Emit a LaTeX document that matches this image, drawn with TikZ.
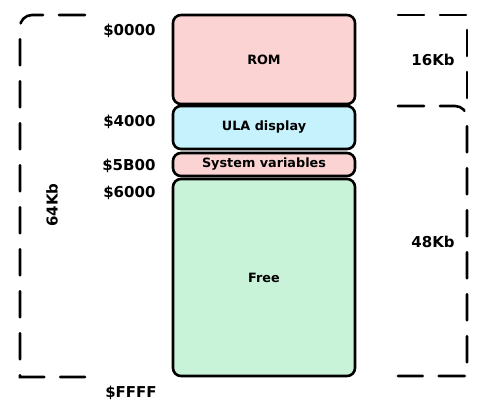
\documentclass[tikz,border=0pt]{standalone}
\usepackage{fontspec}
\setmainfont{DejaVu Sans}
\usepackage{tikz}

\definecolor{rompink}{HTML}{FBD3D3}
\definecolor{ulacyan}{HTML}{C5F2FD}
\definecolor{freegreen}{HTML}{C9F3D8}

\begin{document}
\begin{tikzpicture}[x=1pt, y=-1pt,
    every node/.style={font=\bfseries},
    membox/.style={draw, line width=2.6pt, rounded corners=8pt, minimum width=182pt, inner sep=0pt,
      font=\bfseries\fontsize{12.8}{12.8}\selectfont},
    bracket/.style={line width=2.6pt, dash pattern=on 26pt off 16pt, line cap=round},
    addr/.style={anchor=east, font=\bfseries\fontsize{15}{15}\selectfont},
    size/.style={font=\bfseries\fontsize{15}{15}\selectfont}]
              \useasboundingbox (0,0) rectangle (491,410);

              % memory blocks
              \node[membox, fill=rompink, minimum height=89pt] (rom) at (264,59.5) {ROM};
              \node[membox, fill=ulacyan, minimum height=43pt] (ula) at (264,127.5) {ULA display};
              \node[membox, fill=rompink, minimum height=23pt] (sysvars) at (264,164.5) {System variables};
              \node[membox, fill=freegreen, minimum height=197pt] (free) at (264,277.5) {Free};

              % addresses
              \node[addr] (a0000) at (159,31) {\$0000};
              \node[addr] (a4000) at (159,122) {\$4000};
              \node[addr] (a5b00) at (159,166) {\$5B00};
              \node[addr] (a6000) at (159,193) {\$6000};
              \node[size] (affff) at (131,393) {\$FFFF};

              % brackets
              \draw[bracket] (85,15) [rounded corners=12pt] -- (20,15) [sharp corners] -- (20,377) -- (85,377);
              \draw[bracket] (398,15) -- (467,15) -- (467,100);
              \draw[bracket] (398,106) [rounded corners=12pt] -- (467,106) [sharp corners] -- (467,376) -- (398,376);

              % sizes
              \node[size, rotate=90] (k64) at (52,205) {64Kb};
              \node[size] (k16) at (433,60) {16Kb};
              \node[size] (k48) at (433,242) {48Kb};
            \end{tikzpicture}
\end{document}
